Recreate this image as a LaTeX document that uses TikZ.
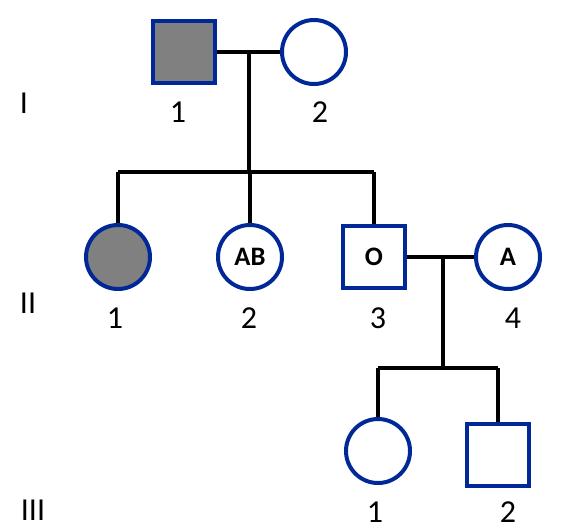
\documentclass[tikz,border=0pt]{standalone}
\usepackage{fontspec}
\setmainfont{Carlito}
\definecolor{pedblue}{RGB}{0,40,150}

\begin{document}
\begin{tikzpicture}[x=0.75pt, y=-0.75pt, every node/.style={font=\fontsize{24}{28}\selectfont, inner sep=1pt},
	male/.style={draw=pedblue, line width=3pt, rectangle, minimum size=46.5pt, inner sep=0pt, fill=white, font=\fontsize{20}{24}\selectfont\bfseries},
	female/.style={draw=pedblue, line width=3pt, circle, minimum size=48pt, inner sep=0pt, fill=white, font=\fontsize{20}{24}\selectfont\bfseries},
	affected/.style={fill=gray}, kin/.style={line width=2.6pt}]
	\useasboundingbox (0,0) rectangle (566,529);
	% connecting points
	\coordinate (m1) at (249,52);
	\coordinate (s1) at (249,172);
	\coordinate (m2) at (443,257);
	\coordinate (s2) at (443,368);
	% lines go under the symbols
	\draw[kin] (184,52) -- (314,52);
	\draw[kin] (374,257) -- (508,257);
	\draw[kin] (m1) -- (s1);
	\draw[kin] (m2) -- (s2);
	\draw[kin] (118,172) -- (374,172);
	\draw[kin] (378,368) -- (498,368);
	\foreach \x in {118, 250, 374} {\draw[kin] (\x,172) -- (\x,240);}
	\foreach \x in {378, 498} {\draw[kin] (\x,368) -- (\x,440);}
	% generation I
	\node[male, affected] (I1) at (184,52) {};
	\node[female] (I2) at (314,52) {};
	% generation II
	\node[female, affected] (II1) at (118,257) {};
	\node[female] (II2) at (250,257) {AB};
	\node[male] (II3) at (374,257) {O};
	\node[female] (II4) at (508,257) {A};
	% generation III
	\node[female] (III1) at (378,451) {};
	\node[male] (III2) at (498,455) {};
	% numbers
	\node (nI) at (24,103) {I};
	\node (nII) at (28,303) {II};
	\node (nIII) at (33,510) {III};
	\foreach \n/\x/\y in {a/178/112, b/320/112, c/115/318, d/249/318, e/378/318, f/513/318, g/375/512, h/508/512}
		{\node (l\n) at (\x,\y) {};}
	\node at (la) {1};
	\node at (lb) {2};
	\node at (lc) {1};
	\node at (ld) {2};
	\node at (le) {3};
	\node at (lf) {4};
	\node at (lg) {1};
	\node at (lh) {2};
\end{tikzpicture}
\end{document}
